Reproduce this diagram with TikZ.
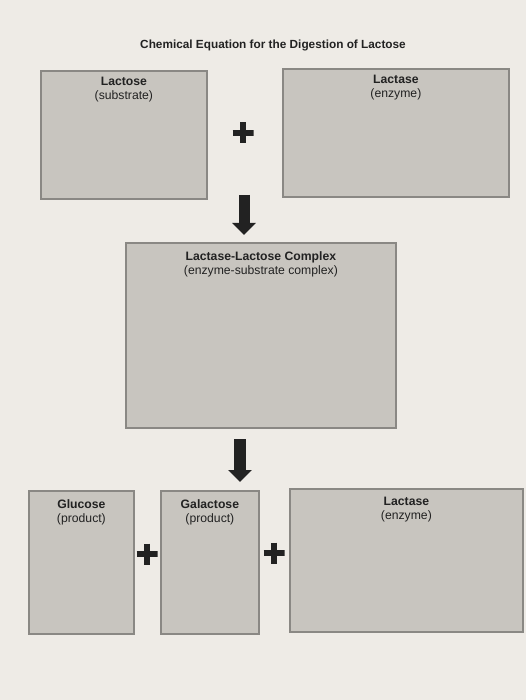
\documentclass[tikz,border=0pt]{standalone}
\usepackage{fontspec}
\setmainfont{Liberation Sans}
\usetikzlibrary{arrows.meta}
\definecolor{paper}{HTML}{EEEBE6}
\definecolor{boxfill}{HTML}{C8C5BF}
\definecolor{boxline}{HTML}{8A8884}
\definecolor{ink}{HTML}{222222}
\tikzset{
  box/.style={draw=boxline, fill=boxfill, line width=1.8pt, anchor=north west, inner sep=0pt},
  lbl/.style={anchor=north, align=center, text=ink, inner sep=0pt,
    font=\fontsize{12.2}{14}\selectfont},
  ttl/.style={text=ink, inner sep=0pt, font=\fontsize{11.8}{13}\selectfont\bfseries},
  plussign/.style={minimum size=21pt, inner sep=0pt, draw=none,
    path picture={\draw[line width=6.5pt, ink]
      (path picture bounding box.west) -- (path picture bounding box.east)
      (path picture bounding box.north) -- (path picture bounding box.south);}},
  bigarrow/.style={draw=ink, line width=11pt, -{Triangle[length=12pt,width=23pt]}}
}
\begin{document}
\begin{tikzpicture}[x=1pt,y=-1pt]
\fill[paper] (0,0) rectangle (526,700);
\useasboundingbox (0,0) rectangle (526,700);
\node[ttl] (title) at (273,45) {Chemical Equation for the Digestion of Lactose};

\node[box, minimum width=166pt, minimum height=128pt] (lactose) at (40,70) {};
\node[lbl] (lactoseT) at ([yshift=-7pt]lactose.north) {\textbf{Lactose}\\(substrate)};

\node[box, minimum width=226pt, minimum height=128pt] (lactaseA) at (282,68) {};
\node[lbl] (lactaseAT) at ([yshift=-7pt]lactaseA.north) {\textbf{Lactase}\\(enzyme)};

\node[plussign] (plus0) at (243,133) {};

\node[box, minimum width=270pt, minimum height=185pt] (complex) at (125,242) {};
\node[lbl] (complexT) at ([yshift=-9pt]complex.north) {\textbf{Lactase-Lactose Complex}\\(enzyme-substrate complex)};

\node[box, minimum width=105pt, minimum height=143pt] (glucose) at (28,490) {};
\node[lbl] (glucoseT) at ([yshift=-9pt]glucose.north) {\textbf{Glucose}\\(product)};

\node[box, minimum width=98pt, minimum height=143pt] (galactose) at (160,490) {};
\node[lbl] (galactoseT) at ([yshift=-9pt]galactose.north) {\textbf{Galactose}\\(product)};

\node[box, minimum width=233pt, minimum height=143pt] (lactaseB) at (289,488) {};
\node[lbl] (lactaseBT) at ([yshift=-9pt]lactaseB.north) {\textbf{Lactase}\\(enzyme)};

\node[plussign] (plus1) at (147,554) {};
\node[plussign] (plus2) at (274,553) {};

\coordinate (a1s) at (244,195);
\coordinate (a1e) at (244,235);
\coordinate (a2s) at (240,439);
\coordinate (a2e) at (240,482);
\draw[bigarrow] (a1s) -- (a1e);
\draw[bigarrow, line width=12pt] (a2s) -- (a2e);
\end{tikzpicture}
\end{document}
